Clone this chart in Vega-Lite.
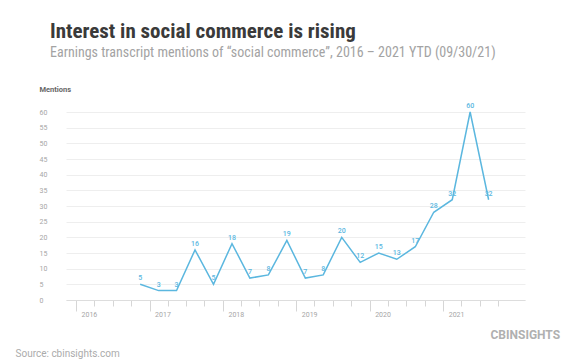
{
  "$schema": "https://vega.github.io/schema/vega-lite/v6.json",
  "autosize": "none",
  "width": 459,
  "height": 188,
  "padding": {"left": 66, "top": 112, "right": 47, "bottom": 64},
  "background": "white",
  "config": {"view": {"stroke": null}, "font": "Roboto"},
  "title": {
    "text": "Interest in social commerce is rising",
    "subtitle": "Earnings transcript mentions of “social commerce”, 2016 – 2021 YTD (09/30/21)",
    "anchor": "start",
    "frame": "group",
    "orient": "top",
    "dx": -16,
    "font": "Roboto Condensed, Liberation Sans Narrow, DejaVu Sans Condensed, Roboto",
    "fontSize": 21,
    "fontWeight": "bold",
    "color": "#3a3a3a",
    "subtitleFont": "Roboto Condensed, Liberation Sans Narrow, DejaVu Sans Condensed, Roboto",
    "subtitleFontSize": 14,
    "subtitleColor": "#a3a3a3",
    "subtitlePadding": 4,
    "offset": 25
  },
  "data": {
    "values": [
      {"quarter": "2016-11-15", "mentions": 5},
      {"quarter": "2017-02-15", "mentions": 3},
      {"quarter": "2017-05-15", "mentions": 3},
      {"quarter": "2017-08-15", "mentions": 16},
      {"quarter": "2017-11-15", "mentions": 5},
      {"quarter": "2018-02-15", "mentions": 18},
      {"quarter": "2018-05-15", "mentions": 7},
      {"quarter": "2018-08-15", "mentions": 8},
      {"quarter": "2018-11-15", "mentions": 19},
      {"quarter": "2019-02-15", "mentions": 7},
      {"quarter": "2019-05-15", "mentions": 8},
      {"quarter": "2019-08-15", "mentions": 20},
      {"quarter": "2019-11-15", "mentions": 12},
      {"quarter": "2020-02-15", "mentions": 15},
      {"quarter": "2020-05-15", "mentions": 13},
      {"quarter": "2020-08-15", "mentions": 17},
      {"quarter": "2020-11-15", "mentions": 28},
      {"quarter": "2021-02-15", "mentions": 32},
      {"quarter": "2021-05-15", "mentions": 60},
      {"quarter": "2021-08-15", "mentions": 32}
    ]
  },
  "encoding": {
    "x": {
      "field": "quarter",
      "type": "temporal",
      "scale": {
        "type": "utc",
        "domain": [
          {"year": 2015, "month": 11, "date": 12, "utc": true},
          {"year": 2022, "month": 2, "date": 12, "utc": true}
        ]
      },
      "axis": {
        "title": "Source: cbinsights.com",
        "titleX": -51,
        "titleY": 53,
        "titleAlign": "left",
        "titleBaseline": "middle",
        "titleFont": "Roboto",
        "titleFontSize": 10,
        "titleFontWeight": "normal",
        "titleColor": "#ababab",
        "grid": false,
        "domainColor": "#dddddd",
        "tickColor": "#d6d6d6",
        "tickSize": {"condition": {"test": "utcmonth(datum.value) == 0", "value": 11}, "value": 6},
        "values": [
          {"year": 2016, "month": 1, "date": 1, "utc": true},
          {"year": 2016, "month": 4, "date": 1, "utc": true},
          {"year": 2016, "month": 7, "date": 1, "utc": true},
          {"year": 2016, "month": 10, "date": 1, "utc": true},
          {"year": 2017, "month": 1, "date": 1, "utc": true},
          {"year": 2017, "month": 4, "date": 1, "utc": true},
          {"year": 2017, "month": 7, "date": 1, "utc": true},
          {"year": 2017, "month": 10, "date": 1, "utc": true},
          {"year": 2018, "month": 1, "date": 1, "utc": true},
          {"year": 2018, "month": 4, "date": 1, "utc": true},
          {"year": 2018, "month": 7, "date": 1, "utc": true},
          {"year": 2018, "month": 10, "date": 1, "utc": true},
          {"year": 2019, "month": 1, "date": 1, "utc": true},
          {"year": 2019, "month": 4, "date": 1, "utc": true},
          {"year": 2019, "month": 7, "date": 1, "utc": true},
          {"year": 2019, "month": 10, "date": 1, "utc": true},
          {"year": 2020, "month": 1, "date": 1, "utc": true},
          {"year": 2020, "month": 4, "date": 1, "utc": true},
          {"year": 2020, "month": 7, "date": 1, "utc": true},
          {"year": 2020, "month": 10, "date": 1, "utc": true},
          {"year": 2021, "month": 1, "date": 1, "utc": true},
          {"year": 2021, "month": 4, "date": 1, "utc": true},
          {"year": 2021, "month": 7, "date": 1, "utc": true},
          {"year": 2021, "month": 10, "date": 1, "utc": true}
        ],
        "labelExpr": "utcmonth(datum.value) == 0 ? utcFormat(datum.value, '%Y') : ''",
        "labelAlign": "left",
        "labelOffset": 5,
        "labelBaseline": "middle",
        "labelPadding": 3,
        "labelFontSize": 7,
        "labelColor": "#a6a6a6",
        "labelFlush": false,
        "labelOverlap": false
      }
    },
    "y": {
      "field": "mentions",
      "type": "quantitative",
      "scale": {"domain": [0, 60], "nice": false},
      "axis": {
        "title": "Mentions",
        "titleAngle": 0,
        "titleX": -27,
        "titleY": -23,
        "titleAlign": "left",
        "titleBaseline": "middle",
        "titleFontSize": 7.5,
        "titleFontWeight": "bold",
        "titleColor": "#666666",
        "values": [0, 5, 10, 15, 20, 25, 30, 35, 40, 45, 50, 55, 60],
        "ticks": false,
        "tickSize": 0,
        "domain": false,
        "gridColor": "#eeeeee",
        "labelAlign": "left",
        "labelPadding": 27,
        "labelFontSize": 7,
        "labelColor": "#a6a6a6"
      }
    }
  },
  "layer": [
    {
      "mark": {"type": "line", "color": "#5bb7df", "strokeWidth": 1.5}
    },
    {
      "mark": {"type": "text", "color": "#5bb7df", "fontSize": 7, "fontWeight": 500, "dy": -6, "baseline": "middle"},
      "encoding": {
        "text": {"field": "mentions", "type": "quantitative"},
        "y": {
          "field": "mentions",
          "type": "quantitative",
          "axis": {
            "orient": "right",
            "title": "CBINSIGHTS",
            "titleAngle": 0,
            "titleX": -35,
            "titleY": 222,
            "titleAlign": "left",
            "titleBaseline": "middle",
            "titleFontSize": 12,
            "titleFontWeight": "bold",
            "titleColor": "#b0b0b0",
            "labels": false,
            "ticks": false,
            "domain": false,
            "grid": false
          }
        }
      }
    }
  ],
  "resolve": {"axis": {"y": "independent"}}
}
